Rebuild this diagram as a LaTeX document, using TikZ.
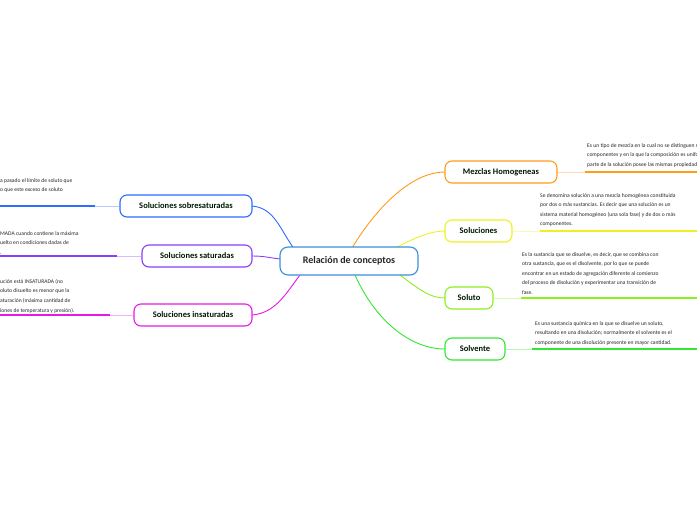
\documentclass[tikz,border=0pt]{standalone}
\usepackage{fontspec}
\setmainfont{Carlito}
\begin{document}
\begin{tikzpicture}[x=1pt,y=-1pt,
  topic/.style={draw=#1,line width=1.1pt,rounded corners=7pt,fill=white,font=\bfseries\fontsize{8.5}{10}\selectfont,text=black!75!green!40!black,inner xsep=0pt,minimum height=22pt},
  desc/.style={font=\fontsize{5.6}{9.6}\selectfont,text=black!85,align=left,inner sep=0pt},
  thick line/.style={draw=#1,line width=1.6pt},
  thin line/.style={draw=#1!35,line width=0.8pt}]
\useasboundingbox (0,0) rectangle (697,520);
\definecolor{cblue}{HTML}{2E6BFF}
\definecolor{cpurp}{HTML}{8A3DFF}
\definecolor{cmag}{HTML}{E619E6}
\definecolor{corg}{HTML}{FF9C1A}
\definecolor{cyel}{HTML}{F0F020}
\definecolor{clime}{HTML}{8CF01E}
\definecolor{cgrn}{HTML}{33E633}
\definecolor{ccen}{HTML}{3D8FD8}
% curves
\draw[cblue,line width=0.9pt] (252,206) .. controls (275,208) and (280,230) .. (295,250);
\draw[cpurp,line width=0.9pt] (252,256) .. controls (265,256) and (270,258) .. (281,259);
\draw[cmag,line width=0.9pt] (252,315) .. controls (275,313) and (285,295) .. (300,275);
\draw[corg,line width=0.9pt] (352,248) .. controls (375,210) and (410,172) .. (445,172);
\draw[cyel,line width=0.9pt] (395,248) .. controls (415,238) and (430,231) .. (445,231);
\draw[clime,line width=0.9pt] (400,275) .. controls (420,290) and (430,298) .. (445,298);
\draw[cgrn,line width=0.9pt] (355,275) .. controls (375,320) and (410,349) .. (445,349);
% center
\node[draw=ccen,line width=1.1pt,rounded corners=8pt,fill=white,font=\bfseries\fontsize{10}{12}\selectfont,text=black!85,minimum width=138pt,minimum height=28pt] (c) at (349,261) {Relación de conceptos};
% left topics
\node[topic=cblue,minimum width=132pt] (a) at (186,206) {Soluciones sobresaturadas};
\node[topic=cpurp,minimum width=110pt] (b) at (197,256) {Soluciones saturadas};
\node[topic=cmag,minimum width=118pt] (d) at (193,315) {Soluciones insaturadas};
\coordinate (a1) at (95,206); \coordinate (a0) at (0,206);
\coordinate (b1) at (117,256); \coordinate (b0) at (0,256);
\coordinate (d1) at (110,315); \coordinate (d0) at (0,315);
\draw[thin line=cblue] (a.west) -- (a1); \draw[thick line=cblue] (a1) -- (a0);
\draw[thin line=cpurp] (b.west) -- (b1); \draw[thick line=cpurp] (b1) -- (b0);
\draw[thin line=cmag] (d.west) -- (d1); \draw[thick line=cmag] (d1) -- (d0);
\node[desc,anchor=north west] (ta) at (0,178) {a pasado el límite de soluto que\\o que este exceso de soluto};
\node[desc,anchor=north west] (tb) at (0,231) {MADA cuando contiene la máxima\\uelto en condiciones dadas de\\.};
\node[desc,anchor=north west] (td) at (0,279) {ución está INSATURADA (no\\oluto disuelto es menor que la\\aturación (máxima cantidad de\\iones de temperatura y presión).};
% right topics
\node[topic=corg,minimum width=112pt] (m) at (501,172) {Mezclas Homogeneas};
\node[topic=cyel,minimum width=67pt] (s) at (478.5,231) {Soluciones};
\node[topic=clime,minimum width=48pt] (u) at (469,298) {Soluto};
\node[topic=cgrn,minimum width=60pt] (v) at (475,349) {Solvente};
\coordinate (m1) at (585,172); \coordinate (m0) at (697,172);
\coordinate (s1) at (540,231); \coordinate (s0) at (697,231);
\coordinate (u1) at (521,298); \coordinate (u0) at (697,298);
\coordinate (v1) at (532,349); \coordinate (v0) at (697,349);
\draw[thin line=corg] (m.east) -- (m1); \draw[thick line=corg] (m1) -- (m0);
\draw[thin line=cyel] (s.east) -- (s1); \draw[thick line=cyel] (s1) -- (s0);
\draw[thin line=clime] (u.east) -- (u1); \draw[thick line=clime] (u1) -- (u0);
\draw[thin line=cgrn] (v.east) -- (v1); \draw[thick line=cgrn] (v1) -- (v0);
\begin{scope}
\clip (0,0) rectangle (697,520);
\node[desc,anchor=north west] (tm) at (587,143) {Es un tipo de mezcla en la cual no se distinguen sus\\componentes y en la que la composición es uniforme y cada\\parte de la solución posee las mismas propiedades.};
\node[desc,anchor=north west] (ts) at (540,193) {Se denomina solución a una mezcla homogénea constituida\\por dos o más sustancias. Es decir que una solución es un\\sistema material homogéneo (una sola fase) y de dos o más\\componentes.};
\node[desc,anchor=north west] (tu) at (522,252) {Es la sustancia que se disuelve, es decir, que se combina con\\otra sustancia, que es el disolvente, por lo que se puede\\encontrar en un estado de agregación diferente al comienzo\\del proceso de disolución y experimentar una transición de\\fase.};
\node[desc,anchor=north west] (tv) at (535,321) {Es una sustancia química en la que se disuelve un soluto,\\resultando en una disolución; normalmente el solvente es el\\componente de una disolución presente en mayor cantidad.};
\end{scope}
\end{tikzpicture}
\end{document}
